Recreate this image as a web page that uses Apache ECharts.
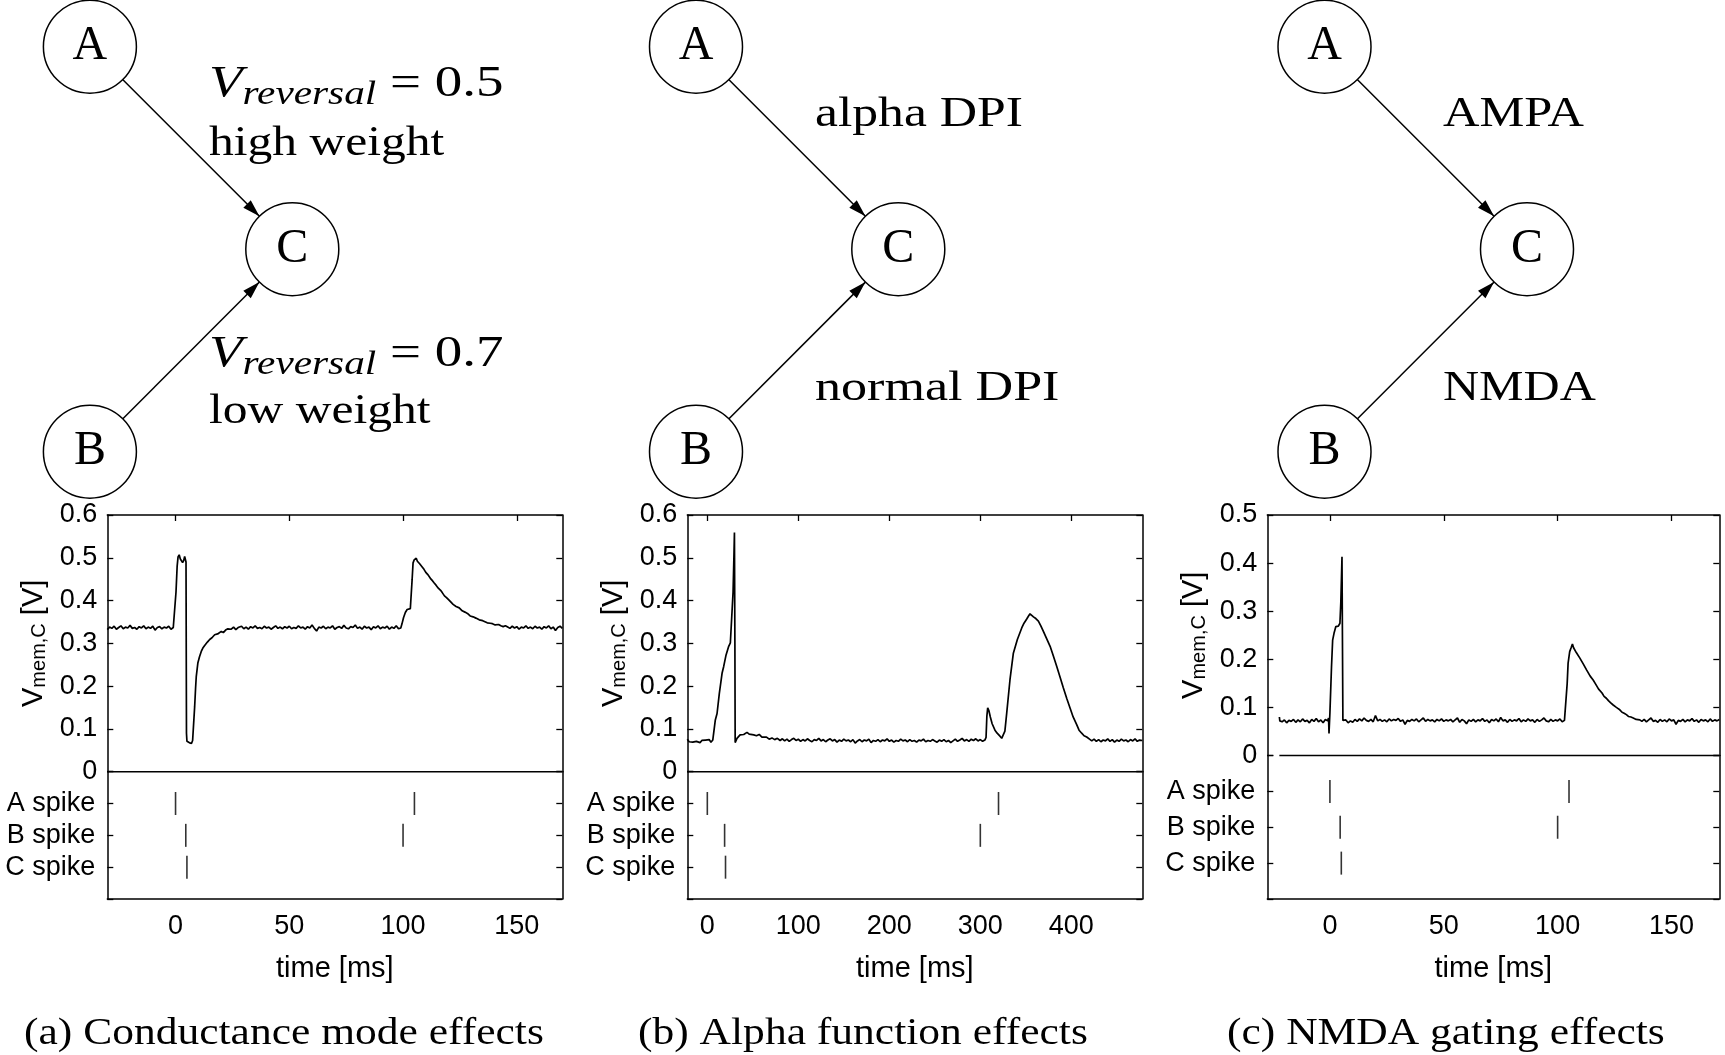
<!DOCTYPE html>
<html><head><meta charset="utf-8">
<script src="https://cdn.jsdelivr.net/npm/echarts@6/dist/echarts.min.js"></script>
<style>html,body{margin:0;padding:0;background:#fff}#c{width:1725px;height:1055px}</style>
</head><body><div id="c"></div>
<script>
// ---------------- DATA ----------------
const rowNames = ['A spike', 'B spike', 'C spike'];
const rowIndex = [1, 2, 3];

const xTicksA = [0, 50, 100, 150];
const xTicksB = [0, 100, 200, 300, 400];
const xTicksC = [0, 50, 100, 150];

// spike times per row (A, B, C) in ms
const spikesA = [[0, 105], [4.5, 100], [5]];
const spikesB = [[0, 320], [19, 300], [20]];
const spikesC = [[0, 105], [4.5, 100], [5]];

// zero reference line extents
const zeroA = [[-30, 0], [170, 0]];
const zeroB = [[-22, 0], [478, 0]];
const zeroC = [[-22.2, 0], [171, 0]];

// membrane voltage traces [time ms, V]
const traceA = [
[-30,0.332],[-29,0.338],[-28,0.335],[-27,0.340],[-26,0.333],[-25,0.337],[-24,0.341],[-23,0.334],[-22,0.338],[-21,0.336],
[-20,0.342],[-19,0.335],[-18,0.337],[-17,0.333],[-16,0.339],[-15,0.336],[-14,0.341],[-13,0.334],[-12,0.338],[-11,0.335],
[-10,0.340],[-9,0.331],[-8,0.337],[-7,0.339],[-6,0.334],[-5,0.338],[-4,0.336],[-3,0.340],[-2,0.333],[-1,0.337],[-0.4,0.336],
[0.2,0.42],[0.7,0.48],[1.1,0.502],[1.6,0.507],[2.1,0.497],[2.6,0.500],[3.1,0.489],[3.6,0.494],[4.0,0.503],[4.4,0.507],[4.6,0.49],
[4.8,0.09],[5.0,0.071],[5.5,0.075],[6.0,0.068],[6.5,0.072],[7.0,0.066],[7.5,0.073],[7.9,0.070],
[8.4,0.152],[8.8,0.195],[9.1,0.222],[9.8,0.254],[10.5,0.268],[11.3,0.281],[12.0,0.289],[12.8,0.295],[14.0,0.303],[15.0,0.309],
[16.0,0.313],[17.2,0.320],[18.5,0.322],[20.1,0.328],[21,0.325],[22,0.331],[23,0.334],[24.5,0.333],[25.5,0.338],[26.5,0.332],[27.5,0.337],
[28,0.336],[29,0.340],[30,0.334],[31,0.338],[32,0.333],[33,0.339],[34,0.336],[35,0.341],[36,0.335],[37,0.337],[38,0.334],[39,0.340],
[40,0.336],[41,0.338],[42,0.333],[43,0.337],[44,0.341],[45,0.335],[46,0.338],[47,0.334],[48,0.339],[49,0.336],[50,0.340],[51,0.334],
[52,0.337],[53,0.335],[54,0.341],[55,0.336],[56,0.338],[57,0.333],[58,0.339],[59,0.336],[60,0.343],[61,0.335],[62,0.329],[63,0.338],
[64,0.336],[65,0.340],[66,0.334],[67,0.338],[68,0.336],[69,0.341],[70,0.333],[71,0.337],[72,0.339],[73,0.335],[74,0.342],[75,0.336],
[76,0.334],[77,0.339],[78,0.337],[79,0.343],[80,0.335],[81,0.338],[82,0.333],[83,0.340],[84,0.336],[85,0.338],[86,0.332],[87,0.339],
[88,0.336],[89,0.341],[90,0.334],[91,0.338],[92,0.336],[93,0.340],[94,0.333],[95,0.338],[96,0.335],[97,0.341],[98,0.334],[99,0.336],
[99.5,0.345],[100.2,0.360],[101,0.372],[101.8,0.379],[102.5,0.376],[103.2,0.381],[103.6,0.385],[104.0,0.45],[104.4,0.488],[104.9,0.495],
[105.4,0.491],[105.8,0.499],[106.3,0.492],[106.8,0.494],[107.3,0.486],[107.8,0.483],[108.5,0.478],[109.2,0.473],[110,0.466],[111,0.460],
[112,0.452],[113,0.446],[113.7,0.441],[114.5,0.436],[115.5,0.429],[116.5,0.424],[117.3,0.418],[118.2,0.411],[119.1,0.407],[120,0.402],
[120.8,0.398],[122,0.391],[123.3,0.386],[124.7,0.383],[126,0.376],[127.2,0.373],[128.3,0.370],[129.5,0.364],[130.8,0.362],[132,0.359],
[133.5,0.355],[135,0.353],[135.7,0.352],[137,0.348],[138.3,0.347],[139.3,0.346],[140.5,0.343],[142,0.344],[143,0.341],[144,0.339],[145,0.341],
[146,0.338],[147,0.335],[148,0.340],[149,0.336],[150,0.339],[151,0.333],[152,0.338],[153,0.336],[154,0.341],[155,0.335],[156,0.338],
[157,0.334],[158,0.340],[159,0.336],[160,0.338],[161,0.333],[162,0.339],[163,0.336],[164,0.341],[165,0.334],[166,0.338],[167,0.330],
[168,0.337],[169,0.340],[170,0.335]
];

const traceB = [
[-22,0.076],[-20,0.070],[-18,0.074],[-16,0.069],[-14,0.073],[-12,0.071],[-10,0.075],[-8,0.068],[-6,0.073],[-4,0.070],[-2,0.074],
[0,0.071],[2,0.075],[4,0.069],[6,0.074],
[8.8,0.121],[10.7,0.136],[13.2,0.183],[16.2,0.230],[18,0.246],[20.6,0.273],[23.5,0.293],[25.3,0.301],[27,0.305],[28.3,0.42],
[29.2,0.50],[29.8,0.559],[30.3,0.30],[30.6,0.068],
[32.6,0.078],[34,0.082],[36,0.086],[38.1,0.090],[40,0.087],[42,0.091],[43.6,0.092],[46,0.088],[48,0.090],[51,0.086],[54,0.084],
[57,0.087],[60,0.081],[62,0.078],[65,0.081],[68,0.076],[71,0.079],[74,0.075],[77,0.078],[80,0.073],
[82.5,0.077],[85,0.072],[87.5,0.076],[90,0.071],[92.5,0.075],[95,0.078],[97.5,0.073],[100,0.076],[102.5,0.071],[105,0.075],
[107.5,0.072],[110,0.077],[112.5,0.073],[115,0.070],[117.5,0.075],[120,0.073],[122.5,0.078],[125,0.072],[127.5,0.075],[130,0.070],
[132.5,0.074],[135,0.077],[137.5,0.072],[140,0.075],[142.5,0.069],[145,0.074],[147.5,0.071],[150,0.076],[152.5,0.072],[155,0.074],
[157.5,0.070],[160,0.075],[162.5,0.067],[165,0.072],[167.5,0.075],[170,0.070],[172.5,0.074],[175,0.072],[177.5,0.076],[180,0.068],
[182.5,0.073],[185,0.071],[187.5,0.075],[190,0.070],[192.5,0.074],[195,0.072],[197.5,0.077],[200,0.071],[202.5,0.074],[205,0.069],
[207.5,0.073],[210,0.071],[212.5,0.076],[215,0.072],[217.5,0.074],[220,0.070],[222.5,0.075],[225,0.071],[227.5,0.073],[230,0.069],
[232.5,0.074],[235,0.072],[237.5,0.076],[240,0.070],[242.5,0.073],[245,0.071],[247.5,0.075],[250,0.072],[252.5,0.069],[255,0.074],
[257.5,0.071],[260,0.075],[262.5,0.070],[265,0.073],[267.5,0.068],[270,0.072],[272.5,0.076],[275,0.071],[277.5,0.074],[280,0.078],
[282.5,0.072],[285,0.075],[287.5,0.071],[290,0.076],[292.5,0.073],[295,0.077],[297.5,0.072],[300,0.075],[302.5,0.071],[305,0.074],
[306.3,0.080],[307.2,0.130],[308.1,0.149],[309.5,0.142],[311,0.128],[313,0.112],[316.1,0.097],[318.5,0.090],[321.6,0.083],[323.5,0.078],
[325.3,0.075],[327,0.095],[329,0.137],[332.6,0.215],[336.3,0.277],[340.7,0.309],[345.5,0.336],[348,0.347],[351,0.357],[353,0.364],
[354.6,0.369],[356.5,0.365],[358.4,0.362],[361,0.358],[363.8,0.352],[366.5,0.341],[369.3,0.328],[372.5,0.313],[376.7,0.293],[380,0.272],
[384,0.246],[387.5,0.222],[391.2,0.196],[395,0.171],[398.6,0.149],[402,0.128],[405.9,0.110],[408.5,0.097],[411.4,0.090],[414,0.084],
[416.9,0.081],[420,0.076],
[422.5,0.072],[425,0.076],[427.5,0.071],[430,0.075],[432.5,0.070],[435,0.074],[437.5,0.072],[440,0.077],[442.5,0.071],[445,0.075],
[447.5,0.069],[450,0.074],[452.5,0.071],[455,0.076],[457.5,0.072],[460,0.074],[462.5,0.070],[465,0.075],[467.5,0.072],[470,0.077],
[472.5,0.071],[475,0.074],[478,0.073]
];

const traceC = [
[-22.2,0.080],[-22,0.072],[-21,0.070],[-20,0.074],[-19,0.068],[-18,0.073],[-17,0.071],[-16,0.075],[-15,0.069],[-14,0.074],[-13,0.070],
[-12,0.076],[-11,0.071],[-10,0.073],[-9,0.068],[-8,0.075],[-7,0.071],[-6,0.077],[-5,0.070],[-4,0.074],[-3,0.068],[-2,0.075],[-1,0.072],
[-0.6,0.078],[-0.4,0.046],[0,0.089],[0.7,0.185],[1.2,0.24],[1.8,0.254],[2.6,0.268],[3.2,0.266],[3.7,0.269],[4.4,0.275],[4.8,0.32],
[5.3,0.413],[5.7,0.073],
[6,0.070],[7,0.074],[8,0.068],[9,0.072],[10,0.069],[11,0.075],[12,0.071],[13,0.076],[14,0.072],[15,0.078],[16,0.073],[17,0.071],
[18,0.075],[19,0.070],[20,0.083],[21,0.072],[22,0.075],[23,0.071],[24,0.074],[25,0.070],[26,0.076],[27,0.072],[28,0.075],[29,0.073],
[30,0.077],[31,0.071],[32,0.074],[33,0.065],[34,0.073],[35,0.071],[36,0.075],[37,0.072],[38,0.076],[39,0.070],[40,0.074],[41,0.078],
[42,0.071],[43,0.075],[44,0.072],[45,0.074],[46,0.070],[47,0.075],[48,0.072],[49,0.076],[50,0.071],[51,0.074],[52,0.072],[53,0.075],
[54,0.070],[55,0.074],[56,0.078],[57,0.069],[58,0.075],[59,0.072],[60,0.066],[61,0.074],[62,0.071],[63,0.075],[64,0.070],[65,0.074],
[66,0.072],[67,0.077],[68,0.071],[69,0.074],[70,0.068],[71,0.075],[72,0.072],[73,0.076],[74,0.070],[75,0.079],[76,0.072],[77,0.074],
[78,0.069],[79,0.075],[80,0.071],[81,0.074],[82,0.072],[83,0.077],[84,0.070],[85,0.074],[86,0.071],[87,0.076],[88,0.072],[89,0.074],
[90,0.069],[91,0.075],[92,0.071],[93,0.074],[94,0.078],[95,0.072],[96,0.070],[97,0.075],[98,0.071],[99,0.074],[100,0.072],[101,0.076],
[102,0.070],[103,0.073],
[103.6,0.075],[104.2,0.150],[104.6,0.192],[105.3,0.216],[106,0.225],[106.5,0.232],[107,0.224],[107.6,0.220],[108.2,0.214],[108.8,0.216],
[109.7,0.203],[110.5,0.199],[111.3,0.190],[112,0.186],[112.7,0.178],[113.5,0.174],[114.3,0.165],[115,0.162],[115.6,0.157],[116.5,0.150],
[117.3,0.146],[118,0.138],[118.5,0.136],[119.5,0.130],[120.4,0.123],[121.4,0.119],[122.3,0.114],[123.2,0.110],[124.4,0.105],[125.5,0.101],
[126.4,0.098],[127.3,0.095],[128.3,0.090],[129.2,0.088],[130.2,0.085],[131.2,0.081],[132.2,0.080],[133.2,0.078],[134.5,0.075],[136.1,0.074],
[137,0.071],[138,0.075],[139,0.070],[140,0.074],[141,0.078],[142,0.071],[143,0.073],[144,0.069],[145,0.075],[146,0.071],[147,0.074],
[148,0.070],[149,0.076],[150,0.072],[151,0.074],[152,0.065],[153,0.073],[154,0.071],[155,0.075],[156,0.070],[157,0.074],[158,0.072],
[159,0.077],[160,0.071],[161,0.074],[162,0.069],[163,0.075],[164,0.072],[165,0.074],[166,0.070],[167,0.076],[168,0.071],[169,0.074],
[170,0.072],[171,0.075]
];

// network diagram nodes (diagram coordinates) and links
const nodes = [{ name: 'A', value: [0, 2] }, { name: 'C', value: [1, 1] }, { name: 'B', value: [0, 0] }];
const links = [{ source: 'A', target: 'C' }, { source: 'B', target: 'C' }];

// ---------------- LAYOUT ----------------
const SANS = 'Liberation Sans', SERIF = 'Liberation Serif';
// slim arrowhead whose tip sits at the centre of its symbol box
const ARROW = 'path://M0,0Z M20,0Z M10,10 L13,20 L7,20 Z';
const panels = [
  { left: 107.3, width: 455, top: 515, zeroY: 771.7, bottom: 899, xmin: -30, xmax: 170, vmax: 0.6, xticks: xTicksA, trace: traceA, zero: zeroA, spikes: spikesA, diag: { left: 89.9, width: 202.4 } },
  { left: 687.3, width: 455, top: 515, zeroY: 771.7, bottom: 899, xmin: -22, xmax: 478, vmax: 0.6, xticks: xTicksB, trace: traceB, zero: zeroB, spikes: spikesB, diag: { left: 696, width: 202.3 } },
  { left: 1267.3, width: 452, top: 515, zeroY: 755.5, bottom: 899, xmin: -27.5, xmax: 171, vmax: 0.5, xticks: xTicksC, trace: traceC, zero: zeroC, spikes: spikesC, diag: { left: 1324.5, width: 202.5 } }
];

const grid = [], xAxis = [], yAxis = [], series = [];
const tickStyle = { show: true, inside: true, length: 6, lineStyle: { color: '#000', width: 1.3 } };
const lineStyleAx = { show: true, onZero: false, lineStyle: { color: '#000', width: 1.5 } };
const lbl = { color: '#000', fontFamily: SANS, fontSize: 27 };

panels.forEach((p, i) => {
  const gU = grid.length;
  grid.push({ left: p.left, top: p.top, width: p.width, height: p.zeroY - p.top, outerBoundsMode: 'none' });
  const gL = grid.length;
  grid.push({ left: p.left, top: p.zeroY, width: p.width, height: p.bottom - p.zeroY, outerBoundsMode: 'none' });

  const xU = xAxis.length;
  xAxis.push({ gridIndex: gU, type: 'value', position: 'top', min: p.xmin, max: p.xmax,
    axisLine: lineStyleAx, axisTick: Object.assign({}, tickStyle, { customValues: p.xticks }),
    axisLabel: { show: false, customValues: p.xticks }, splitLine: { show: false } });
  const xL = xAxis.length;
  xAxis.push({ gridIndex: gL, type: 'value', position: 'bottom', min: p.xmin, max: p.xmax,
    axisLine: lineStyleAx, axisTick: { show: false, customValues: p.xticks },
    axisLabel: Object.assign({ margin: 14, customValues: p.xticks }, lbl), splitLine: { show: false },
    name: 'time [ms]', nameLocation: 'middle', nameGap: 55, nameTextStyle: { color: '#000', fontFamily: SANS, fontSize: 29 } });

  const yUL = yAxis.length;
  yAxis.push({ gridIndex: gU, type: 'value', position: 'left', min: 0, max: p.vmax, interval: 0.1,
    axisLine: lineStyleAx, axisTick: tickStyle, axisLabel: Object.assign({ margin: 10 }, lbl), splitLine: { show: false },
    name: '{v|V}{s|mem,C}{v| [V]}', nameLocation: 'middle', nameGap: 58, nameRotate: 90,
    nameTextStyle: { rich: {
      v: { fontFamily: SANS, fontSize: 29, color: '#000', lineHeight: 30, verticalAlign: 'top' },
      s: { fontFamily: SANS, fontSize: 20, color: '#000', lineHeight: 20, verticalAlign: 'bottom', padding: [19, 0, 0, 0] } } } });
  yAxis.push({ gridIndex: gU, type: 'value', position: 'right', min: 0, max: p.vmax, interval: 0.1,
    axisLine: lineStyleAx, axisTick: tickStyle, axisLabel: { show: false }, splitLine: { show: false } });
  const yLL = yAxis.length;
  yAxis.push({ gridIndex: gL, type: 'value', position: 'left', min: 0, max: 4, interval: 1, inverse: true,
    axisLine: lineStyleAx, axisTick: tickStyle,
    axisLabel: Object.assign({ margin: 12, formatter: v => (v >= 1 && v <= 3 ? rowNames[v - 1] : '') }, lbl), splitLine: { show: false } });
  yAxis.push({ gridIndex: gL, type: 'value', position: 'right', min: 0, max: 4, interval: 1, inverse: true,
    axisLine: lineStyleAx, axisTick: tickStyle, axisLabel: { show: false }, splitLine: { show: false } });

  series.push({ type: 'line', xAxisIndex: xU, yAxisIndex: yUL, data: p.trace, showSymbol: false, symbol: 'none',
    lineStyle: { color: '#000', width: 1.7 }, animation: false, silent: true });
  series.push({ type: 'line', xAxisIndex: xU, yAxisIndex: yUL, data: p.zero, showSymbol: false, symbol: 'none', clip: false,
    lineStyle: { color: '#000', width: 1.5 }, animation: false, silent: true });
  const sp = [];
  p.spikes.forEach((ts, r) => ts.forEach(t => sp.push([t, rowIndex[r]])));
  series.push({ type: 'scatter', xAxisIndex: xL, yAxisIndex: yLL, data: sp, symbol: 'rect', symbolSize: [1.6, 23],
    itemStyle: { color: '#000' }, animation: false, silent: true });

  // diagram
  const gD = grid.length;
  grid.push({ left: p.diag.left, top: 46.7, width: p.diag.width, height: 405, outerBoundsMode: 'none' });
  const xD = xAxis.length;
  xAxis.push({ gridIndex: gD, type: 'value', min: 0, max: 1, show: false });
  const yD = yAxis.length;
  yAxis.push({ gridIndex: gD, type: 'value', min: 0, max: 2, show: false });
  series.push({ type: 'graph', coordinateSystem: 'cartesian2d', xAxisIndex: xD, yAxisIndex: yD,
    data: nodes, links: links, symbol: 'circle', symbolSize: 93,
    itemStyle: { color: '#fff', borderColor: '#000', borderWidth: 1.5 },
    label: { show: true, position: 'inside', color: '#000', fontFamily: SERIF, fontSize: 48 },
    edgeSymbol: ['none', ARROW], edgeSymbolSize: [0, 35],
    lineStyle: { color: '#000', width: 1.5, opacity: 1, curveness: 0 },
    emphasis: { disabled: true }, animation: false, silent: true, z: 3 });
});

// annotation texts (layout)
function txt(x, baseline, text, size, sx, rich) {
  return { type: 'text', x: x, y: baseline, scaleX: sx, silent: true,
    style: { text: text, x: 0, y: 0, fill: '#000', fontFamily: SERIF, fontSize: size, align: 'left', verticalAlign: 'bottom', rich: rich } };
}
const vrich = {
  i: { fontFamily: SERIF, fontStyle: 'italic', fontSize: 44, lineHeight: 50, verticalAlign: 'top' },
  s: { fontFamily: SERIF, fontStyle: 'italic', fontSize: 33, lineHeight: 31, verticalAlign: 'bottom', padding: [21, 0, 0, 0] },
  n: { fontFamily: SERIF, fontSize: 44, lineHeight: 50, verticalAlign: 'top' }
};
const graphic = [
  txt(209, 112, '{i|V}{s|reversal}{n| = 0.5}', 44, 1.25, vrich),
  txt(209, 165, 'high weight', 42, 1.18),
  txt(209, 382, '{i|V}{s|reversal}{n| = 0.7}', 44, 1.25, vrich),
  txt(209, 433, 'low weight', 42, 1.18),
  txt(815, 136, 'alpha DPI', 42, 1.23),
  txt(815, 410, 'normal DPI', 42, 1.24),
  txt(1443, 136, 'AMPA', 42, 1.2),
  txt(1443, 410, 'NMDA', 42, 1.19),
  txt(24, 1053, '(a) Conductance mode effects', 38, 1.145),
  txt(638, 1053, '(b) Alpha function effects', 38, 1.145),
  txt(1227, 1053, '(c) NMDA gating effects', 38, 1.145)
];

const chart = echarts.init(document.getElementById('c'), null, { renderer: 'canvas' });
chart.setOption({ backgroundColor: '#fff', animation: false, grid, xAxis, yAxis, series, graphic });
</script></body></html>
